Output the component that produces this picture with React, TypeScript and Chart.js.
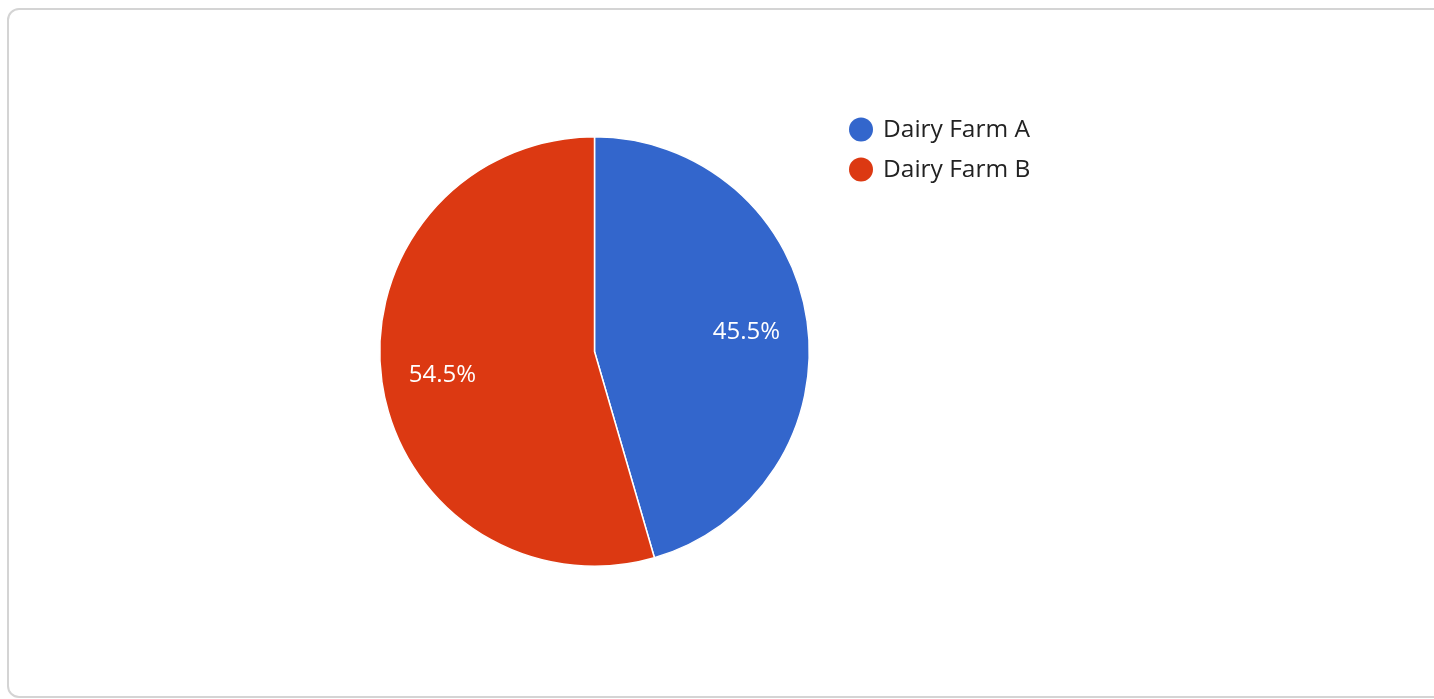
import React, { useEffect, useRef } from "react";
import { Chart, registerables } from "chart.js";

Chart.register(...registerables);

const categories = ["Dairy Farm A", "Dairy Farm B"];
const values = [45.5, 54.5];
const colors = ["#3366CC", "#DC3912"];

const FONT = "'Open Sans', 'Noto Sans', sans-serif";

const sliceLabels = {
  id: "sliceLabels",
  afterDatasetsDraw(chart: any) {
    const ctx = chart.ctx;
    const meta = chart.getDatasetMeta(0);
    const data = chart.data.datasets[0].data as number[];
    const total = data.reduce((a, b) => a + b, 0);
    ctx.save();
    ctx.fillStyle = "#ffffff";
    ctx.font = `24px ${FONT}`;
    ctx.textAlign = "center";
    ctx.textBaseline = "middle";
    meta.data.forEach((arc: any, i: number) => {
      const { x, y, startAngle, endAngle, outerRadius } = arc.getProps(
        ["x", "y", "startAngle", "endAngle", "outerRadius"],
        true
      );
      const mid = (startAngle + endAngle) / 2;
      const r = outerRadius * 0.715;
      const pct = ((data[i] / total) * 100).toFixed(1) + "%";
      ctx.fillText(pct, x + Math.cos(mid) * r, y + Math.sin(mid) * r + 2);
    });
    ctx.restore();
  },
};

const customLegend = {
  id: "customLegend",
  afterDraw(chart: any) {
    const ctx = chart.ctx;
    const labels = chart.data.labels as string[];
    const bg = chart.data.datasets[0].backgroundColor as string[];
    ctx.save();
    ctx.font = `24.5px ${FONT}`;
    ctx.textBaseline = "middle";
    ctx.textAlign = "left";
    labels.forEach((label, i) => {
      const cy = 129.5 + i * 40;
      ctx.beginPath();
      ctx.arc(861, cy, 12, 0, Math.PI * 2);
      ctx.fillStyle = bg[i];
      ctx.fill();
      ctx.fillStyle = "#222222";
      ctx.fillText(label, 883, cy + 1);
    });
    ctx.restore();
  },
};

export default function App() {
  const ref = useRef<HTMLCanvasElement | null>(null);

  useEffect(() => {
    if (!ref.current) return;
    const chart = new Chart(ref.current, {
      type: "pie",
      data: {
        labels: categories,
        datasets: [
          {
            data: values,
            backgroundColor: colors,
            borderColor: "#ffffff",
            borderWidth: 1.5,
          },
        ],
      },
      options: {
        responsive: false,
        animation: false,
        layout: {
          padding: { left: 379, top: 136, right: 624, bottom: 132 },
        },
        plugins: {
          legend: { display: false },
          tooltip: { enabled: false },
        },
      },
      plugins: [sliceLabels, customLegend],
    });
    return () => chart.destroy();
  }, []);

  return (
    <div style={{ position: "fixed", left: 0, top: 0, width: 1434, height: 699, overflow: "hidden", background: "#fff" }}>
      <div
        style={{
          position: "absolute",
          left: 7,
          top: 8,
          width: 1440,
          height: 690,
          boxSizing: "border-box",
          border: "2px solid #d4d4d4",
          borderRadius: 12,
          background: "#fff",
        }}
      />
      <canvas
        ref={ref}
        width={1434}
        height={699}
        style={{ position: "absolute", left: 0, top: 0, width: 1434, height: 699 }}
      />
    </div>
  );
}
